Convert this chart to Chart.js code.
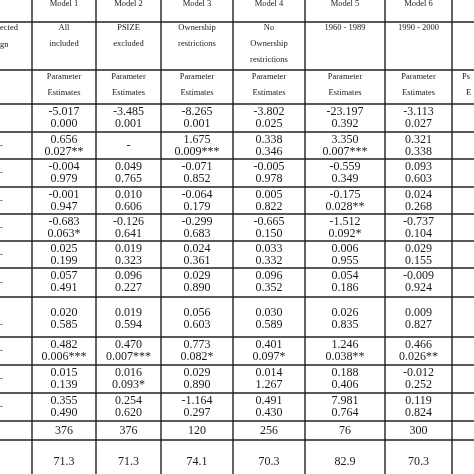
<!DOCTYPE html>
<html><head><meta charset="utf-8">
<script src="https://cdn.jsdelivr.net/npm/chart.js"></script>
<style>html,body{margin:0;padding:0;background:#fff}#w{width:474px;height:474px}</style>
</head><body><div id="w"><canvas id="c"></canvas></div>
<script>
const models = ["Model 1","Model 2","Model 3","Model 4","Model 5","Model 6"];
const descriptions = [["All","included"],["PSIZE","excluded"],["Ownership","restrictions"],["No","Ownership","restrictions"],["1960 - 1989"],["1990 - 2000"]];
const estimates = [
 ["-5.017","-3.485","-8.265","-3.802","-23.197","-3.113"],
 ["0.656","-","1.675","0.338","3.350","0.321"],
 ["-0.004","0.049","-0.071","-0.005","-0.559","0.093"],
 ["-0.001","0.010","-0.064","0.005","-0.175","0.024"],
 ["-0.683","-0.126","-0.299","-0.665","-1.512","-0.737"],
 ["0.025","0.019","0.024","0.033","0.006","0.029"],
 ["0.057","0.096","0.029","0.096","0.054","-0.009"],
 ["0.020","0.019","0.056","0.030","0.026","0.009"],
 ["0.482","0.470","0.773","0.401","1.246","0.466"],
 ["0.015","0.016","0.029","0.014","0.188","-0.012"],
 ["0.355","0.254","-1.164","0.491","7.981","0.119"]];
const pvalues = [
 ["0.000","0.001","0.001","0.025","0.392","0.027"],
 ["0.027**","","0.009***","0.346","0.007***","0.338"],
 ["0.979","0.765","0.852","0.978","0.349","0.603"],
 ["0.947","0.606","0.179","0.822","0.028**","0.268"],
 ["0.063*","0.641","0.683","0.150","0.092*","0.104"],
 ["0.199","0.323","0.361","0.332","0.955","0.155"],
 ["0.491","0.227","0.890","0.352","0.186","0.924"],
 ["0.585","0.594","0.603","0.589","0.835","0.827"],
 ["0.006***","0.007***","0.082*","0.097*","0.038**","0.026**"],
 ["0.139","0.093*","0.890","1.267","0.406","0.252"],
 ["0.490","0.620","0.297","0.430","0.764","0.824"]];
const observations = ["376","376","120","256","76","300"];
const percentCorrect = ["71.3","71.3","74.1","70.3","82.9","70.3"];

const colEdges=[32,96,161,233,305,385,452];
const rowEdges=[22,70,104,132,159,187,214,241,268,297,337,365,393,421,440];

const tablePlugin={id:'tbl',afterDraw(ch){
 const ctx=ch.ctx,X=v=>ch.scales.x.getPixelForValue(v),Y=v=>ch.scales.y.getPixelForValue(v);
 ctx.save();ctx.strokeStyle='#222';ctx.lineWidth=1.4;
 colEdges.forEach(x=>{ctx.beginPath();ctx.moveTo(X(x),Y(0));ctx.lineTo(X(x),Y(474));ctx.stroke();});
 rowEdges.forEach(y=>{ctx.beginPath();ctx.moveTo(X(0),Y(y));ctx.lineTo(X(474),Y(y));ctx.stroke();});
 ctx.fillStyle='#1a1a1a';ctx.textAlign='center';ctx.textBaseline='middle';
 const cx=i=>(colEdges[i]+colEdges[i+1])/2;
 const t=(s,x,y,f)=>{ctx.font=f;ctx.fillText(s,X(x),Y(y));};
 const small='8.5px "Liberation Serif"',big='12px "Liberation Serif"';
 models.forEach((m,i)=>t(m,cx(i),4,small));
 descriptions.forEach((d,i)=>d.forEach((s,k)=>t(s,cx(i),28+k*16,small)));
 for(let i=0;i<6;i++){t("Parameter",cx(i),77,small);t("Estimates",cx(i),93,small);}
 ctx.textAlign='left';t("ected",0,28,small);t("gn",0,45,small);t("Ps",462,77,small);t("E",466,93,small);
 ctx.textAlign='center';
 for(let r=0;r<11;r++){
  const top=rowEdges[r+2],bot=rowEdges[r+3],h=bot-top;
  const off=r===7?8:0;
  for(let i=0;i<6;i++){
   if(r===1&&i===1){t("-",cx(i),top+h/2,big);continue;}
   t(estimates[r][i],cx(i),top+8+off,big);
   t(pvalues[r][i],cx(i),top+20+off,big);
  }
  if(r>=1){ctx.textAlign='left';t("-",0,top+h/2+off,small);ctx.textAlign='center';}
 }
 for(let i=0;i<6;i++){t(observations[i],cx(i),431,big);t(percentCorrect[i],cx(i),462,big);}
 ctx.restore();
}};
new Chart(document.getElementById('c'),{type:'scatter',
 data:{datasets:[{data:[],pointRadius:0}]},
 options:{responsive:true,maintainAspectRatio:false,animation:false,layout:{padding:0},
  plugins:{legend:{display:false},tooltip:{enabled:false}},
  scales:{x:{type:'linear',min:0,max:474,display:false},y:{type:'linear',min:0,max:474,reverse:true,display:false}}},
 plugins:[tablePlugin]});
</script></body></html>
